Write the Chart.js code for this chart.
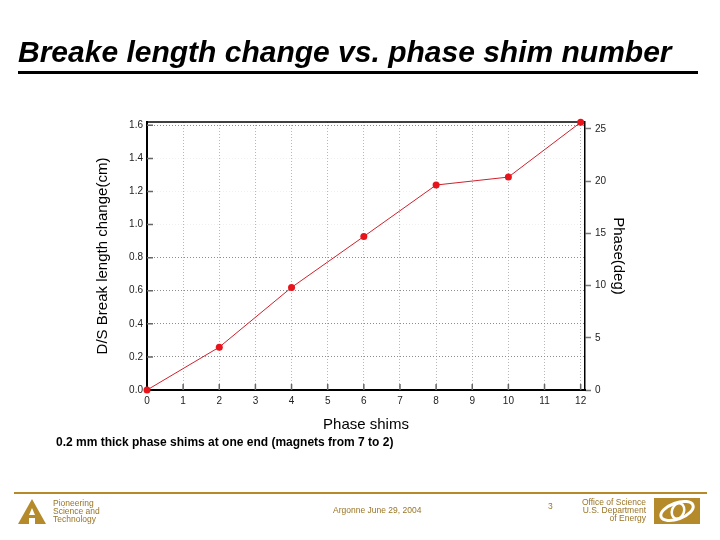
<!DOCTYPE html>
<html>
<head>
<meta charset="utf-8">
<script src="https://cdn.jsdelivr.net/npm/chart.js@4/dist/chart.umd.min.js"></script>
<style>
  html, body { margin: 0; padding: 0; background: #fff; }
  #page { position: relative; width: 720px; height: 540px; overflow: hidden; font-family: "Liberation Sans", Arial, sans-serif; }
  #chart { position: absolute; left: 0; top: 0; }
  .abs { position: absolute; white-space: nowrap; }
  #title { left: 18px; top: 35px; font-size: 30px; font-weight: bold; font-style: italic; color: #000; }
  #rule { left: 18px; top: 71px; width: 680px; height: 3px; background: #000; }
  #note { left: 56px; top: 435px; font-family: "Liberation Sans Narrow", "Liberation Sans", Arial, sans-serif; font-weight: bold; font-size: 12px; color: #000; }
  #goldrule { left: 14px; top: 492px; width: 693px; height: 2px; background: #b58a2a; }
  .foot { color: #9a7424; font-size: 8.5px; line-height: 8.2px; }
</style>
</head>
<body>
<div id="page">
  <canvas id="chart" width="720" height="540"></canvas>
  <div class="abs" id="title">Breake length change vs. phase shim number</div>
  <div class="abs" id="rule"></div>
  <div class="abs" id="note">0.2 mm thick phase shims at one end (magnets from 7 to 2)</div>
  <div class="abs" id="goldrule"></div>
  <svg class="abs" style="left:16px;top:498px" width="32" height="27" viewBox="0 0 32 27">
    <path d="M16 1 L30 26 L19 26 L19 20 L13 20 L13 26 L2 26 Z" fill="#b58a2a"/>
    <path d="M16 10 L19 17 L13 17 Z" fill="#fff"/>
  </svg>
  <div class="abs foot" style="left:53px;top:499px">Pioneering<br>Science and<br>Technology</div>
  <div class="abs foot" style="left:333px;top:506px">Argonne June 29, 2004</div>
  <div class="abs foot" style="left:548px;top:502px">3</div>
  <div class="abs foot" style="right:74px;top:498px;text-align:right">Office of Science<br>U.S. Department<br>of Energy</div>
  <svg class="abs" style="left:654px;top:498px" width="46" height="26" viewBox="0 0 46 26">
    <rect x="0" y="0" width="46" height="26" fill="#b58a2a"/>
    <ellipse cx="23" cy="13" rx="17" ry="8" fill="none" stroke="#fff" stroke-width="3" transform="rotate(-20 23 13)"/>
    <ellipse cx="24" cy="13" rx="6" ry="8" fill="none" stroke="#fff" stroke-width="2.5" transform="rotate(20 24 13)"/>
  </svg>
</div>
<script>
// phase shim count vs. break length change
const shims = [0, 2, 4, 6, 8, 10, 12];
const breakChange = [0.0, 0.259, 0.62, 0.928, 1.239, 1.287, 1.618];

const xTicks = [0, 1, 2, 3, 4, 5, 6, 7, 8, 9, 10, 11, 12];
const leftTicks = [0.0, 0.2, 0.4, 0.6, 0.8, 1.0, 1.2, 1.4, 1.6];
const rightTicks = [0, 5, 10, 15, 20, 25];

const tickFont = { family: "Liberation Sans, Arial, sans-serif", size: 10 };
const titleFont = { family: "Liberation Sans, Arial, sans-serif", size: 15 };

function useTicks(arr) {
  return (scale) => { scale.ticks = arr.map(v => ({ value: v })); };
}

// top frame line plus the short inward tick marks
const frameTicks = {
  id: "frameTicks",
  beforeDatasetsDraw(chart) {
    const { ctx, chartArea: a, scales } = chart;
    ctx.save();
    ctx.strokeStyle = "#000";
    ctx.lineWidth = 1.5;
    ctx.beginPath();
    ctx.moveTo(a.left, a.top);
    ctx.lineTo(a.right, a.top);
    ctx.stroke();

    ctx.strokeStyle = "#666";
    ctx.lineWidth = 1.5;
    ctx.beginPath();
    xTicks.forEach(v => {
      if (v === 0) return;
      const px = scales.x.getPixelForValue(v);
      ctx.moveTo(px, a.bottom);
      ctx.lineTo(px, a.bottom - 6);
    });
    leftTicks.forEach(v => {
      if (v === 0) return;
      const py = scales.y.getPixelForValue(v);
      ctx.moveTo(a.left, py);
      ctx.lineTo(a.left + 6, py);
    });
    ctx.stroke();
    ctx.restore();
  }
};

new Chart(document.getElementById("chart"), {
  type: "line",
  data: {
    datasets: [{
      data: shims.map((s, i) => ({ x: s, y: breakChange[i] })),
      borderColor: "#d0202c",
      backgroundColor: "#e8141c",
      borderWidth: 1,
      pointRadius: 3.5,
      pointBorderWidth: 0,
      pointBackgroundColor: "#e8141c",
      tension: 0,
      clip: false
    }]
  },
  options: {
    responsive: false,
    animation: false,
    layout: { padding: { left: 94, right: 93, top: 122, bottom: 106 } },
    plugins: { legend: { display: false }, tooltip: { enabled: false } },
    scales: {
      x: {
        type: "linear",
        min: 0,
        max: 12.12,
        afterBuildTicks: useTicks(xTicks),
        afterFit: (s) => { s.height = 44; },
        ticks: { font: tickFont, color: "#222", padding: 5, maxRotation: 0 },
        grid: { color: "#b8b8b8", lineWidth: 1, drawTicks: false },
        border: { color: "#000", width: 2, dash: [1, 2] },
        title: { display: true, text: "Phase shims", font: titleFont, color: "#000", padding: 0 }
      },
      y: {
        type: "linear",
        position: "left",
        min: 0,
        max: 1.62,
        afterBuildTicks: useTicks(leftTicks),
        afterFit: (s) => { s.width = 53; },
        ticks: { font: tickFont, color: "#222", padding: 4, callback: v => v.toFixed(1) },
        grid: {
          drawTicks: false,
          color: (c) => (c.tick && c.tick.value > 0.9 && c.tick.value < 1.5) ? "rgba(0,0,0,0.06)" : "#8c8c8c"
        },
        border: { color: "#000", width: 2, dash: [1, 2] },
        title: { display: true, text: "D/S Break length change(cm)", font: titleFont, color: "#000", padding: 0 }
      },
      y2: {
        type: "linear",
        position: "right",
        min: 0,
        max: 25.67,
        afterBuildTicks: useTicks(rightTicks),
        afterFit: (s) => { s.width = 42; },
        ticks: { font: tickFont, color: "#222", padding: 4 },
        grid: { drawOnChartArea: false, drawTicks: true, tickLength: 6, tickColor: "#777", tickWidth: 1.5 },
        border: { color: "#000", width: 1.5 },
        title: { display: true, text: "Phase(deg)", font: titleFont, color: "#000", padding: 0 }
      }
    }
  },
  plugins: [frameTicks]
});
</script>
</body>
</html>
